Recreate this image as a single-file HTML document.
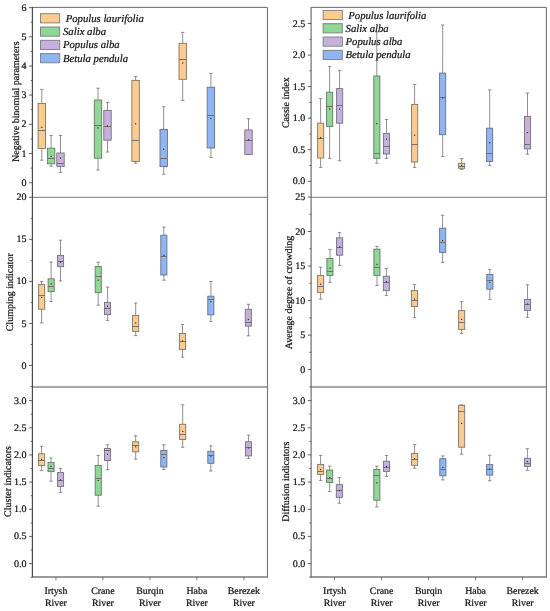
<!DOCTYPE html>
<html lang="en"><head><meta charset="utf-8"><title>Aggregation indices box plots</title>
<style>html,body{margin:0;padding:0;background:#fff}svg{display:block}svg text{font-family:"Liberation Serif",serif;text-rendering:geometricPrecision;fill:#111;stroke:#111;stroke-width:0.22px}</style></head>
<body>
<svg width="550" height="611" viewBox="0 0 550 611" fill="#1a1a1a">
<rect width="550" height="611" fill="#fff"/>
<g stroke="#6c6c6c" stroke-width="0.75" fill="none"><path d="M41.8 89.4V103.4M41.8 148.4V160.2M40.1 89.4H43.5M40.1 160.2H43.5"/></g>
<rect x="38.1" y="103.4" width="7.4" height="45.0" fill="#fbcb90" stroke="#7c746a" stroke-width="0.9"/>
<path d="M38.1 130.5H45.5" stroke="#707070" stroke-width="1"/>
<rect x="41.2" y="126.8" width="1.2" height="1.2" fill="#333"/>
<g stroke="#6c6c6c" stroke-width="0.75" fill="none"><path d="M51.1 135.4V148.2M51.1 163.8V166.2M49.4 135.4H52.8M49.4 166.2H52.8"/></g>
<rect x="47.4" y="148.2" width="7.4" height="15.6" fill="#90d796" stroke="#66786a" stroke-width="0.9"/>
<path d="M47.4 158.5H54.8" stroke="#707070" stroke-width="1"/>
<rect x="50.5" y="155.8" width="1.2" height="1.2" fill="#333"/>
<g stroke="#6c6c6c" stroke-width="0.75" fill="none"><path d="M60.5 135.4V153.0M60.5 166.4V172.4M58.8 135.4H62.2M58.8 172.4H62.2"/></g>
<rect x="56.8" y="153.0" width="7.4" height="13.4" fill="#c6b1dd" stroke="#74707c" stroke-width="0.9"/>
<path d="M56.8 163.5H64.2" stroke="#707070" stroke-width="1"/>
<rect x="59.9" y="157.4" width="1.2" height="1.2" fill="#333"/>
<g stroke="#6c6c6c" stroke-width="0.75" fill="none"><path d="M98.0 88.2V100.0M98.0 158.2V170.0M96.3 88.2H99.7M96.3 170.0H99.7"/></g>
<rect x="94.3" y="100.0" width="7.4" height="58.2" fill="#90d796" stroke="#66786a" stroke-width="0.9"/>
<path d="M94.3 125.5H101.7" stroke="#707070" stroke-width="1"/>
<rect x="97.4" y="127.2" width="1.2" height="1.2" fill="#333"/>
<g stroke="#6c6c6c" stroke-width="0.75" fill="none"><path d="M107.5 102.4V110.4M107.5 140.2V152.0M105.8 102.4H109.2M105.8 152.0H109.2"/></g>
<rect x="103.8" y="110.4" width="7.4" height="29.8" fill="#c6b1dd" stroke="#74707c" stroke-width="0.9"/>
<path d="M103.8 126.5H111.2" stroke="#707070" stroke-width="1"/>
<rect x="106.9" y="125.4" width="1.2" height="1.2" fill="#333"/>
<g stroke="#6c6c6c" stroke-width="0.75" fill="none"><path d="M135.6 76.6V80.4M135.6 161.4V163.2M133.9 76.6H137.3M133.9 163.2H137.3"/></g>
<rect x="131.9" y="80.4" width="7.4" height="81.0" fill="#fbcb90" stroke="#7c746a" stroke-width="0.9"/>
<path d="M131.9 140.5H139.3" stroke="#707070" stroke-width="1"/>
<rect x="135.0" y="123.2" width="1.2" height="1.2" fill="#333"/>
<g stroke="#6c6c6c" stroke-width="0.75" fill="none"><path d="M163.7 106.7V129.4M163.7 166.5V174.2M162.0 106.7H165.4M162.0 174.2H165.4"/></g>
<rect x="160.0" y="129.4" width="7.4" height="37.1" fill="#90b5f1" stroke="#667084" stroke-width="0.9"/>
<path d="M160.0 158.5H167.4" stroke="#707070" stroke-width="1"/>
<rect x="163.1" y="148.6" width="1.2" height="1.2" fill="#333"/>
<g stroke="#6c6c6c" stroke-width="0.75" fill="none"><path d="M182.7 32.4V43.3M182.7 79.3V100.5M181.0 32.4H184.4M181.0 100.5H184.4"/></g>
<rect x="179.0" y="43.3" width="7.4" height="36.0" fill="#fbcb90" stroke="#7c746a" stroke-width="0.9"/>
<path d="M179.0 59.5H186.4" stroke="#707070" stroke-width="1"/>
<rect x="182.1" y="62.5" width="1.2" height="1.2" fill="#333"/>
<g stroke="#6c6c6c" stroke-width="0.75" fill="none"><path d="M210.9 73.4V87.2M210.9 148.0V157.4M209.2 73.4H212.6M209.2 157.4H212.6"/></g>
<rect x="207.2" y="87.2" width="7.4" height="60.8" fill="#90b5f1" stroke="#667084" stroke-width="0.9"/>
<path d="M207.2 115.5H214.6" stroke="#707070" stroke-width="1"/>
<rect x="210.3" y="117.9" width="1.2" height="1.2" fill="#333"/>
<g stroke="#6c6c6c" stroke-width="0.75" fill="none"><path d="M248.5 118.8V130.0M248.5 154.5V154.5M246.8 118.8H250.2M246.8 154.5H250.2"/></g>
<rect x="244.8" y="130.0" width="7.4" height="24.5" fill="#c6b1dd" stroke="#74707c" stroke-width="0.9"/>
<path d="M244.8 140.5H252.2" stroke="#707070" stroke-width="1"/>
<rect x="247.9" y="139.1" width="1.2" height="1.2" fill="#333"/>
<g stroke="#6c6c6c" stroke-width="0.75" fill="none"><path d="M320.6 98.6V123.2M320.6 158.0V167.4M318.9 98.6H322.3M318.9 167.4H322.3"/></g>
<rect x="317.6" y="123.2" width="6.1" height="34.8" fill="#fbcb90" stroke="#7c746a" stroke-width="0.9"/>
<path d="M317.6 138.5H323.7" stroke="#707070" stroke-width="1"/>
<rect x="320.0" y="137.0" width="1.2" height="1.2" fill="#333"/>
<g stroke="#6c6c6c" stroke-width="0.75" fill="none"><path d="M329.6 66.4V92.2M329.6 126.4V158.4M327.9 66.4H331.3M327.9 158.4H331.3"/></g>
<rect x="326.6" y="92.2" width="6.1" height="34.2" fill="#90d796" stroke="#66786a" stroke-width="0.9"/>
<path d="M326.6 106.5H332.7" stroke="#707070" stroke-width="1"/>
<rect x="329.0" y="108.4" width="1.2" height="1.2" fill="#333"/>
<g stroke="#6c6c6c" stroke-width="0.75" fill="none"><path d="M339.6 70.4V88.6M339.6 123.2V160.8M337.9 70.4H341.3M337.9 160.8H341.3"/></g>
<rect x="336.6" y="88.6" width="6.1" height="34.6" fill="#c6b1dd" stroke="#74707c" stroke-width="0.9"/>
<path d="M336.6 105.5H342.7" stroke="#707070" stroke-width="1"/>
<rect x="339.0" y="108.4" width="1.2" height="1.2" fill="#333"/>
<g stroke="#6c6c6c" stroke-width="0.75" fill="none"><path d="M376.8 32.0V76.0M376.8 158.4V163.2M375.1 32.0H378.5M375.1 163.2H378.5"/></g>
<rect x="373.8" y="76.0" width="6.1" height="82.4" fill="#90d796" stroke="#66786a" stroke-width="0.9"/>
<path d="M373.8 153.5H379.9" stroke="#707070" stroke-width="1"/>
<rect x="376.2" y="123.0" width="1.2" height="1.2" fill="#333"/>
<g stroke="#6c6c6c" stroke-width="0.75" fill="none"><path d="M386.5 119.4V133.4M386.5 154.0V158.4M384.8 119.4H388.2M384.8 158.4H388.2"/></g>
<rect x="383.4" y="133.4" width="6.1" height="20.6" fill="#c6b1dd" stroke="#74707c" stroke-width="0.9"/>
<path d="M383.4 146.5H389.6" stroke="#707070" stroke-width="1"/>
<rect x="385.9" y="138.6" width="1.2" height="1.2" fill="#333"/>
<g stroke="#6c6c6c" stroke-width="0.75" fill="none"><path d="M414.6 84.4V104.4M414.6 162.0V167.4M412.9 84.4H416.3M412.9 167.4H416.3"/></g>
<rect x="411.6" y="104.4" width="6.1" height="57.6" fill="#fbcb90" stroke="#7c746a" stroke-width="0.9"/>
<path d="M411.6 144.5H417.7" stroke="#707070" stroke-width="1"/>
<rect x="414.0" y="134.6" width="1.2" height="1.2" fill="#333"/>
<g stroke="#6c6c6c" stroke-width="0.75" fill="none"><path d="M442.7 25.0V73.1M442.7 134.7V156.5M441.0 25.0H444.4M441.0 156.5H444.4"/></g>
<rect x="439.6" y="73.1" width="6.1" height="61.6" fill="#90b5f1" stroke="#667084" stroke-width="0.9"/>
<path d="M439.6 97.5H445.8" stroke="#707070" stroke-width="1"/>
<rect x="442.1" y="97.3" width="1.2" height="1.2" fill="#333"/>
<g stroke="#6c6c6c" stroke-width="0.75" fill="none"><path d="M461.6 158.6V163.3M461.6 168.3V169.5M459.9 158.6H463.3M459.9 169.5H463.3"/></g>
<rect x="458.6" y="163.3" width="6.1" height="5.0" fill="#fbcb90" stroke="#7c746a" stroke-width="0.9"/>
<path d="M458.6 166.5H464.7" stroke="#707070" stroke-width="1"/>
<rect x="461.0" y="164.8" width="1.2" height="1.2" fill="#333"/>
<g stroke="#6c6c6c" stroke-width="0.75" fill="none"><path d="M489.7 89.9V128.2M489.7 161.5V165.4M488.0 89.9H491.4M488.0 165.4H491.4"/></g>
<rect x="486.6" y="128.2" width="6.1" height="33.3" fill="#90b5f1" stroke="#667084" stroke-width="0.9"/>
<path d="M486.6 153.5H492.8" stroke="#707070" stroke-width="1"/>
<rect x="489.1" y="142.1" width="1.2" height="1.2" fill="#333"/>
<g stroke="#6c6c6c" stroke-width="0.75" fill="none"><path d="M527.5 93.1V116.4M527.5 148.9V154.2M525.8 93.1H529.2M525.8 154.2H529.2"/></g>
<rect x="524.5" y="116.4" width="6.1" height="32.5" fill="#c6b1dd" stroke="#74707c" stroke-width="0.9"/>
<path d="M524.5 144.5H530.5" stroke="#707070" stroke-width="1"/>
<rect x="526.9" y="132.0" width="1.2" height="1.2" fill="#333"/>
<g stroke="#6c6c6c" stroke-width="0.75" fill="none"><path d="M41.6 281.6V284.6M41.6 309.2V323.0M39.9 281.6H43.3M39.9 323.0H43.3"/></g>
<rect x="38.6" y="284.6" width="6.1" height="24.6" fill="#fbcb90" stroke="#7c746a" stroke-width="0.9"/>
<path d="M38.6 295.5H44.6" stroke="#707070" stroke-width="1"/>
<rect x="41.0" y="296.8" width="1.2" height="1.2" fill="#333"/>
<g stroke="#6c6c6c" stroke-width="0.75" fill="none"><path d="M51.1 262.0V278.8M51.1 291.6V301.6M49.4 262.0H52.8M49.4 301.6H52.8"/></g>
<rect x="48.1" y="278.8" width="6.1" height="12.8" fill="#90d796" stroke="#66786a" stroke-width="0.9"/>
<path d="M48.1 286.5H54.1" stroke="#707070" stroke-width="1"/>
<rect x="50.5" y="283.4" width="1.2" height="1.2" fill="#333"/>
<g stroke="#6c6c6c" stroke-width="0.75" fill="none"><path d="M60.5 240.2V255.4M60.5 266.6V281.0M58.8 240.2H62.2M58.8 281.0H62.2"/></g>
<rect x="57.5" y="255.4" width="6.1" height="11.2" fill="#c6b1dd" stroke="#74707c" stroke-width="0.9"/>
<path d="M57.5 261.5H63.5" stroke="#707070" stroke-width="1"/>
<rect x="59.9" y="261.4" width="1.2" height="1.2" fill="#333"/>
<g stroke="#6c6c6c" stroke-width="0.75" fill="none"><path d="M98.2 262.2V266.6M98.2 292.6V305.2M96.5 262.2H99.9M96.5 305.2H99.9"/></g>
<rect x="95.2" y="266.6" width="6.1" height="26.0" fill="#90d796" stroke="#66786a" stroke-width="0.9"/>
<path d="M95.2 276.5H101.2" stroke="#707070" stroke-width="1"/>
<rect x="97.6" y="279.6" width="1.2" height="1.2" fill="#333"/>
<g stroke="#6c6c6c" stroke-width="0.75" fill="none"><path d="M107.6 287.0V302.4M107.6 314.6V320.4M105.9 287.0H109.3M105.9 320.4H109.3"/></g>
<rect x="104.5" y="302.4" width="6.1" height="12.2" fill="#c6b1dd" stroke="#74707c" stroke-width="0.9"/>
<path d="M104.5 308.5H110.6" stroke="#707070" stroke-width="1"/>
<rect x="107.0" y="305.6" width="1.2" height="1.2" fill="#333"/>
<g stroke="#6c6c6c" stroke-width="0.75" fill="none"><path d="M135.7 303.0V315.4M135.7 331.4V335.6M134.0 303.0H137.4M134.0 335.6H137.4"/></g>
<rect x="132.6" y="315.4" width="6.1" height="16.0" fill="#fbcb90" stroke="#7c746a" stroke-width="0.9"/>
<path d="M132.6 326.5H138.8" stroke="#707070" stroke-width="1"/>
<rect x="135.1" y="322.4" width="1.2" height="1.2" fill="#333"/>
<g stroke="#6c6c6c" stroke-width="0.75" fill="none"><path d="M163.9 227.0V235.2M163.9 275.0V280.2M162.2 227.0H165.6M162.2 280.2H165.6"/></g>
<rect x="160.8" y="235.2" width="6.1" height="39.8" fill="#90b5f1" stroke="#667084" stroke-width="0.9"/>
<path d="M160.8 256.5H167.0" stroke="#707070" stroke-width="1"/>
<rect x="163.3" y="254.7" width="1.2" height="1.2" fill="#333"/>
<g stroke="#6c6c6c" stroke-width="0.75" fill="none"><path d="M182.5 324.5V333.4M182.5 349.6V357.2M180.8 324.5H184.2M180.8 357.2H184.2"/></g>
<rect x="179.4" y="333.4" width="6.1" height="16.2" fill="#fbcb90" stroke="#7c746a" stroke-width="0.9"/>
<path d="M179.4 341.5H185.6" stroke="#707070" stroke-width="1"/>
<rect x="181.9" y="340.4" width="1.2" height="1.2" fill="#333"/>
<g stroke="#6c6c6c" stroke-width="0.75" fill="none"><path d="M210.9 281.5V296.2M210.9 314.8V321.6M209.2 281.5H212.6M209.2 321.6H212.6"/></g>
<rect x="207.8" y="296.2" width="6.1" height="18.6" fill="#90b5f1" stroke="#667084" stroke-width="0.9"/>
<path d="M207.8 299.5H214.0" stroke="#707070" stroke-width="1"/>
<rect x="210.3" y="301.1" width="1.2" height="1.2" fill="#333"/>
<g stroke="#6c6c6c" stroke-width="0.75" fill="none"><path d="M248.4 304.3V309.3M248.4 326.1V335.8M246.7 304.3H250.1M246.7 335.8H250.1"/></g>
<rect x="245.3" y="309.3" width="6.1" height="16.8" fill="#c6b1dd" stroke="#74707c" stroke-width="0.9"/>
<path d="M245.3 322.5H251.5" stroke="#707070" stroke-width="1"/>
<rect x="247.8" y="318.9" width="1.2" height="1.2" fill="#333"/>
<g stroke="#6c6c6c" stroke-width="0.75" fill="none"><path d="M320.6 267.2V275.4M320.6 292.6V299.2M318.9 267.2H322.3M318.9 299.2H322.3"/></g>
<rect x="317.6" y="275.4" width="6.1" height="17.2" fill="#fbcb90" stroke="#7c746a" stroke-width="0.9"/>
<path d="M317.6 286.5H323.7" stroke="#707070" stroke-width="1"/>
<rect x="320.0" y="283.6" width="1.2" height="1.2" fill="#333"/>
<g stroke="#6c6c6c" stroke-width="0.75" fill="none"><path d="M330.0 249.4V258.4M330.0 275.4V282.4M328.3 249.4H331.7M328.3 282.4H331.7"/></g>
<rect x="326.9" y="258.4" width="6.1" height="17.0" fill="#90d796" stroke="#66786a" stroke-width="0.9"/>
<path d="M326.9 271.5H333.1" stroke="#707070" stroke-width="1"/>
<rect x="329.4" y="267.6" width="1.2" height="1.2" fill="#333"/>
<g stroke="#6c6c6c" stroke-width="0.75" fill="none"><path d="M339.6 232.6V237.8M339.6 255.2V265.4M337.9 232.6H341.3M337.9 265.4H341.3"/></g>
<rect x="336.6" y="237.8" width="6.1" height="17.4" fill="#c6b1dd" stroke="#74707c" stroke-width="0.9"/>
<path d="M336.6 247.5H342.7" stroke="#707070" stroke-width="1"/>
<rect x="339.0" y="246.4" width="1.2" height="1.2" fill="#333"/>
<g stroke="#6c6c6c" stroke-width="0.75" fill="none"><path d="M377.0 246.4V249.2M377.0 275.4V285.4M375.3 246.4H378.7M375.3 285.4H378.7"/></g>
<rect x="373.9" y="249.2" width="6.1" height="26.2" fill="#90d796" stroke="#66786a" stroke-width="0.9"/>
<path d="M373.9 267.5H380.1" stroke="#707070" stroke-width="1"/>
<rect x="376.4" y="263.8" width="1.2" height="1.2" fill="#333"/>
<g stroke="#6c6c6c" stroke-width="0.75" fill="none"><path d="M386.4 268.4V276.2M386.4 290.6V295.4M384.7 268.4H388.1M384.7 295.4H388.1"/></g>
<rect x="383.3" y="276.2" width="6.1" height="14.4" fill="#c6b1dd" stroke="#74707c" stroke-width="0.9"/>
<path d="M383.3 282.5H389.4" stroke="#707070" stroke-width="1"/>
<rect x="385.8" y="281.2" width="1.2" height="1.2" fill="#333"/>
<g stroke="#6c6c6c" stroke-width="0.75" fill="none"><path d="M414.5 284.6V290.4M414.5 306.6V317.6M412.8 284.6H416.2M412.8 317.6H416.2"/></g>
<rect x="411.4" y="290.4" width="6.1" height="16.2" fill="#fbcb90" stroke="#7c746a" stroke-width="0.9"/>
<path d="M411.4 300.5H417.6" stroke="#707070" stroke-width="1"/>
<rect x="413.9" y="298.6" width="1.2" height="1.2" fill="#333"/>
<g stroke="#6c6c6c" stroke-width="0.75" fill="none"><path d="M442.6 215.2V228.2M442.6 252.4V262.4M440.9 215.2H444.3M440.9 262.4H444.3"/></g>
<rect x="439.6" y="228.2" width="6.1" height="24.2" fill="#90b5f1" stroke="#667084" stroke-width="0.9"/>
<path d="M439.6 242.5H445.7" stroke="#707070" stroke-width="1"/>
<rect x="442.0" y="240.0" width="1.2" height="1.2" fill="#333"/>
<g stroke="#6c6c6c" stroke-width="0.75" fill="none"><path d="M461.6 301.4V310.6M461.6 329.4V333.4M459.9 301.4H463.3M459.9 333.4H463.3"/></g>
<rect x="458.6" y="310.6" width="6.1" height="18.8" fill="#fbcb90" stroke="#7c746a" stroke-width="0.9"/>
<path d="M458.6 322.5H464.7" stroke="#707070" stroke-width="1"/>
<rect x="461.0" y="318.8" width="1.2" height="1.2" fill="#333"/>
<g stroke="#6c6c6c" stroke-width="0.75" fill="none"><path d="M489.8 269.4V274.4M489.8 289.2V299.4M488.1 269.4H491.5M488.1 299.4H491.5"/></g>
<rect x="486.8" y="274.4" width="6.1" height="14.8" fill="#90b5f1" stroke="#667084" stroke-width="0.9"/>
<path d="M486.8 280.5H492.9" stroke="#707070" stroke-width="1"/>
<rect x="489.2" y="281.8" width="1.2" height="1.2" fill="#333"/>
<g stroke="#6c6c6c" stroke-width="0.75" fill="none"><path d="M527.5 284.8V299.4M527.5 310.4V317.4M525.8 284.8H529.2M525.8 317.4H529.2"/></g>
<rect x="524.5" y="299.4" width="6.1" height="11.0" fill="#c6b1dd" stroke="#74707c" stroke-width="0.9"/>
<path d="M524.5 304.5H530.5" stroke="#707070" stroke-width="1"/>
<rect x="526.9" y="303.4" width="1.2" height="1.2" fill="#333"/>
<g stroke="#6c6c6c" stroke-width="0.75" fill="none"><path d="M41.6 446.4V453.8M41.6 465.4V470.6M39.9 446.4H43.3M39.9 470.6H43.3"/></g>
<rect x="38.6" y="453.8" width="6.1" height="11.6" fill="#fbcb90" stroke="#7c746a" stroke-width="0.9"/>
<path d="M38.6 460.5H44.6" stroke="#707070" stroke-width="1"/>
<rect x="41.0" y="458.8" width="1.2" height="1.2" fill="#333"/>
<g stroke="#6c6c6c" stroke-width="0.75" fill="none"><path d="M51.0 458.0V462.4M51.0 471.6V481.2M49.3 458.0H52.7M49.3 481.2H52.7"/></g>
<rect x="48.0" y="462.4" width="6.1" height="9.2" fill="#90d796" stroke="#66786a" stroke-width="0.9"/>
<path d="M48.0 468.5H54.0" stroke="#707070" stroke-width="1"/>
<rect x="50.4" y="465.8" width="1.2" height="1.2" fill="#333"/>
<g stroke="#6c6c6c" stroke-width="0.75" fill="none"><path d="M60.5 468.4V472.6M60.5 486.4V492.4M58.8 468.4H62.2M58.8 492.4H62.2"/></g>
<rect x="57.5" y="472.6" width="6.1" height="13.8" fill="#c6b1dd" stroke="#74707c" stroke-width="0.9"/>
<path d="M57.5 480.5H63.5" stroke="#707070" stroke-width="1"/>
<rect x="59.9" y="479.4" width="1.2" height="1.2" fill="#333"/>
<g stroke="#6c6c6c" stroke-width="0.75" fill="none"><path d="M98.2 455.4V465.4M98.2 495.2V506.2M96.5 455.4H99.9M96.5 506.2H99.9"/></g>
<rect x="95.2" y="465.4" width="6.1" height="29.8" fill="#90d796" stroke="#66786a" stroke-width="0.9"/>
<path d="M95.2 478.5H101.2" stroke="#707070" stroke-width="1"/>
<rect x="97.6" y="479.8" width="1.2" height="1.2" fill="#333"/>
<g stroke="#6c6c6c" stroke-width="0.75" fill="none"><path d="M107.6 444.8V448.6M107.6 460.4V469.8M105.9 444.8H109.3M105.9 469.8H109.3"/></g>
<rect x="104.5" y="448.6" width="6.1" height="11.8" fill="#c6b1dd" stroke="#74707c" stroke-width="0.9"/>
<path d="M104.5 450.5H110.6" stroke="#707070" stroke-width="1"/>
<rect x="107.0" y="453.8" width="1.2" height="1.2" fill="#333"/>
<g stroke="#6c6c6c" stroke-width="0.75" fill="none"><path d="M135.7 435.8V441.8M135.7 451.8V459.2M134.0 435.8H137.4M134.0 459.2H137.4"/></g>
<rect x="132.6" y="441.8" width="6.1" height="10.0" fill="#fbcb90" stroke="#7c746a" stroke-width="0.9"/>
<path d="M132.6 445.5H138.8" stroke="#707070" stroke-width="1"/>
<rect x="135.1" y="446.2" width="1.2" height="1.2" fill="#333"/>
<g stroke="#6c6c6c" stroke-width="0.75" fill="none"><path d="M163.8 444.8V450.4M163.8 467.0V469.4M162.1 444.8H165.5M162.1 469.4H165.5"/></g>
<rect x="160.8" y="450.4" width="6.1" height="16.6" fill="#90b5f1" stroke="#667084" stroke-width="0.9"/>
<path d="M160.8 454.5H166.9" stroke="#707070" stroke-width="1"/>
<rect x="163.2" y="457.0" width="1.2" height="1.2" fill="#333"/>
<g stroke="#6c6c6c" stroke-width="0.75" fill="none"><path d="M182.7 404.8V424.3M182.7 439.5V447.2M181.0 404.8H184.4M181.0 447.2H184.4"/></g>
<rect x="179.6" y="424.3" width="6.1" height="15.2" fill="#fbcb90" stroke="#7c746a" stroke-width="0.9"/>
<path d="M179.6 434.5H185.8" stroke="#707070" stroke-width="1"/>
<rect x="182.1" y="430.9" width="1.2" height="1.2" fill="#333"/>
<g stroke="#6c6c6c" stroke-width="0.75" fill="none"><path d="M210.8 445.9V451.3M210.8 463.3V471.0M209.1 445.9H212.5M209.1 471.0H212.5"/></g>
<rect x="207.8" y="451.3" width="6.1" height="12.0" fill="#90b5f1" stroke="#667084" stroke-width="0.9"/>
<path d="M207.8 455.5H213.9" stroke="#707070" stroke-width="1"/>
<rect x="210.2" y="455.5" width="1.2" height="1.2" fill="#333"/>
<g stroke="#6c6c6c" stroke-width="0.75" fill="none"><path d="M248.5 435.2V441.7M248.5 455.9V458.5M246.8 435.2H250.2M246.8 458.5H250.2"/></g>
<rect x="245.4" y="441.7" width="6.1" height="14.2" fill="#c6b1dd" stroke="#74707c" stroke-width="0.9"/>
<path d="M245.4 447.5H251.6" stroke="#707070" stroke-width="1"/>
<rect x="247.9" y="447.4" width="1.2" height="1.2" fill="#333"/>
<g stroke="#6c6c6c" stroke-width="0.75" fill="none"><path d="M320.6 455.4V464.4M320.6 474.4V480.4M318.9 455.4H322.3M318.9 480.4H322.3"/></g>
<rect x="317.6" y="464.4" width="6.1" height="10.0" fill="#fbcb90" stroke="#7c746a" stroke-width="0.9"/>
<path d="M317.6 471.5H323.7" stroke="#707070" stroke-width="1"/>
<rect x="320.0" y="468.8" width="1.2" height="1.2" fill="#333"/>
<g stroke="#6c6c6c" stroke-width="0.75" fill="none"><path d="M329.7 466.2V470.0M329.7 482.6V491.6M328.0 466.2H331.4M328.0 491.6H331.4"/></g>
<rect x="326.6" y="470.0" width="6.1" height="12.6" fill="#90d796" stroke="#66786a" stroke-width="0.9"/>
<path d="M326.6 478.5H332.8" stroke="#707070" stroke-width="1"/>
<rect x="329.1" y="477.2" width="1.2" height="1.2" fill="#333"/>
<g stroke="#6c6c6c" stroke-width="0.75" fill="none"><path d="M339.4 477.4V484.6M339.4 497.4V503.2M337.7 477.4H341.1M337.7 503.2H341.1"/></g>
<rect x="336.3" y="484.6" width="6.1" height="12.8" fill="#c6b1dd" stroke="#74707c" stroke-width="0.9"/>
<path d="M336.3 490.5H342.4" stroke="#707070" stroke-width="1"/>
<rect x="338.8" y="490.0" width="1.2" height="1.2" fill="#333"/>
<g stroke="#6c6c6c" stroke-width="0.75" fill="none"><path d="M376.8 466.2V469.4M376.8 500.2V507.0M375.1 466.2H378.5M375.1 507.0H378.5"/></g>
<rect x="373.8" y="469.4" width="6.1" height="30.8" fill="#90d796" stroke="#66786a" stroke-width="0.9"/>
<path d="M373.8 475.5H379.9" stroke="#707070" stroke-width="1"/>
<rect x="376.2" y="482.2" width="1.2" height="1.2" fill="#333"/>
<g stroke="#6c6c6c" stroke-width="0.75" fill="none"><path d="M386.5 455.4V461.2M386.5 471.4V476.4M384.8 455.4H388.2M384.8 476.4H388.2"/></g>
<rect x="383.4" y="461.2" width="6.1" height="10.2" fill="#c6b1dd" stroke="#74707c" stroke-width="0.9"/>
<path d="M383.4 467.5H389.6" stroke="#707070" stroke-width="1"/>
<rect x="385.9" y="465.8" width="1.2" height="1.2" fill="#333"/>
<g stroke="#6c6c6c" stroke-width="0.75" fill="none"><path d="M414.6 444.6V453.4M414.6 465.4V468.2M412.9 444.6H416.3M412.9 468.2H416.3"/></g>
<rect x="411.6" y="453.4" width="6.1" height="12.0" fill="#fbcb90" stroke="#7c746a" stroke-width="0.9"/>
<path d="M411.6 459.5H417.7" stroke="#707070" stroke-width="1"/>
<rect x="414.0" y="458.0" width="1.2" height="1.2" fill="#333"/>
<g stroke="#6c6c6c" stroke-width="0.75" fill="none"><path d="M442.8 455.9V458.7M442.8 475.8V479.9M441.1 455.9H444.5M441.1 479.9H444.5"/></g>
<rect x="439.8" y="458.7" width="6.1" height="17.1" fill="#90b5f1" stroke="#667084" stroke-width="0.9"/>
<path d="M439.8 469.5H445.9" stroke="#707070" stroke-width="1"/>
<rect x="442.2" y="466.9" width="1.2" height="1.2" fill="#333"/>
<g stroke="#6c6c6c" stroke-width="0.75" fill="none"><path d="M461.6 404.8V405.3M461.6 447.2V454.2M459.9 404.8H463.3M459.9 454.2H463.3"/></g>
<rect x="458.6" y="405.3" width="6.1" height="41.9" fill="#fbcb90" stroke="#7c746a" stroke-width="0.9"/>
<path d="M458.6 411.5H464.7" stroke="#707070" stroke-width="1"/>
<rect x="461.0" y="422.8" width="1.2" height="1.2" fill="#333"/>
<g stroke="#6c6c6c" stroke-width="0.75" fill="none"><path d="M489.7 455.2V464.6M489.7 475.1V480.8M488.0 455.2H491.4M488.0 480.8H491.4"/></g>
<rect x="486.6" y="464.6" width="6.1" height="10.5" fill="#90b5f1" stroke="#667084" stroke-width="0.9"/>
<path d="M486.6 469.5H492.8" stroke="#707070" stroke-width="1"/>
<rect x="489.1" y="468.4" width="1.2" height="1.2" fill="#333"/>
<g stroke="#6c6c6c" stroke-width="0.75" fill="none"><path d="M527.4 448.7V458.3M527.4 466.4V470.3M525.7 448.7H529.1M525.7 470.3H529.1"/></g>
<rect x="524.4" y="458.3" width="6.1" height="8.1" fill="#c6b1dd" stroke="#74707c" stroke-width="0.9"/>
<path d="M524.4 463.5H530.4" stroke="#707070" stroke-width="1"/>
<rect x="526.8" y="461.0" width="1.2" height="1.2" fill="#333"/>
<line x1="32.4" y1="7.4" x2="267.5" y2="7.4" stroke="#5a5a5a" stroke-width="0.9"/>
<line x1="32.4" y1="197.3" x2="267.5" y2="197.3" stroke="#5e5e5e" stroke-width="0.85"/>
<line x1="32.4" y1="387.1" x2="267.5" y2="387.1" stroke="#8a8a8a" stroke-width="1.5"/>
<line x1="31.9" y1="577.0" x2="268.0" y2="577.0" stroke="#7a7a7a" stroke-width="1.3"/>
<line x1="267.5" y1="7.4" x2="267.5" y2="577.0" stroke="#787878" stroke-width="1.15"/>
<line x1="32.4" y1="7.0" x2="32.4" y2="577.0" stroke="#4c4c4c" stroke-width="1.2"/>
<line x1="311.1" y1="7.4" x2="546.4" y2="7.4" stroke="#5a5a5a" stroke-width="0.9"/>
<line x1="311.1" y1="197.3" x2="546.4" y2="197.3" stroke="#5e5e5e" stroke-width="0.85"/>
<line x1="311.1" y1="387.1" x2="546.4" y2="387.1" stroke="#8a8a8a" stroke-width="1.5"/>
<line x1="310.6" y1="577.0" x2="546.9" y2="577.0" stroke="#7a7a7a" stroke-width="1.3"/>
<line x1="546.4" y1="7.4" x2="546.4" y2="577.0" stroke="#787878" stroke-width="1.15"/>
<line x1="311.1" y1="7.0" x2="311.1" y2="577.0" stroke="#6e6e6e" stroke-width="1.2"/>
<path d="M29.1 7.6H32.4M29.1 36.8H32.4M29.1 66.0H32.4M29.1 95.1H32.4M29.1 124.3H32.4M29.1 153.5H32.4M29.1 182.7H32.4M30.7 22.2H32.4M30.7 51.4H32.4M30.7 80.6H32.4M30.7 109.7H32.4M30.7 138.9H32.4M30.7 168.1H32.4" stroke="#444" stroke-width="0.85" fill="none"/>
<text x="26.5" y="10.6" text-anchor="end" font-size="10">6</text>
<text x="26.5" y="39.8" text-anchor="end" font-size="10">5</text>
<text x="26.5" y="69.0" text-anchor="end" font-size="10">4</text>
<text x="26.5" y="98.1" text-anchor="end" font-size="10">3</text>
<text x="26.5" y="127.3" text-anchor="end" font-size="10">2</text>
<text x="26.5" y="156.5" text-anchor="end" font-size="10">1</text>
<text x="26.5" y="185.7" text-anchor="end" font-size="10">0</text>
<path d="M29.1 197.3H32.4M29.1 239.4H32.4M29.1 281.4H32.4M29.1 323.5H32.4M29.1 365.5H32.4M30.7 218.3H32.4M30.7 260.4H32.4M30.7 302.4H32.4M30.7 344.5H32.4M30.7 386.5H32.4" stroke="#444" stroke-width="0.85" fill="none"/>
<text x="26.5" y="200.3" text-anchor="end" font-size="10">20</text>
<text x="26.5" y="242.4" text-anchor="end" font-size="10">15</text>
<text x="26.5" y="284.4" text-anchor="end" font-size="10">10</text>
<text x="26.5" y="326.5" text-anchor="end" font-size="10">5</text>
<text x="26.5" y="368.5" text-anchor="end" font-size="10">0</text>
<path d="M29.1 400.6H32.4M29.1 427.8H32.4M29.1 454.9H32.4M29.1 482.1H32.4M29.1 509.3H32.4M29.1 536.4H32.4M29.1 563.6H32.4M30.7 414.2H32.4M30.7 441.4H32.4M30.7 468.5H32.4M30.7 495.7H32.4M30.7 522.9H32.4M30.7 550.0H32.4M30.7 577.2H32.4" stroke="#444" stroke-width="0.85" fill="none"/>
<text x="26.5" y="403.6" text-anchor="end" font-size="10">3.0</text>
<text x="26.5" y="430.8" text-anchor="end" font-size="10">2.5</text>
<text x="26.5" y="457.9" text-anchor="end" font-size="10">2.0</text>
<text x="26.5" y="485.1" text-anchor="end" font-size="10">1.5</text>
<text x="26.5" y="512.3" text-anchor="end" font-size="10">1.0</text>
<text x="26.5" y="539.4" text-anchor="end" font-size="10">0.5</text>
<text x="26.5" y="566.6" text-anchor="end" font-size="10">0.0</text>
<path d="M307.8 400.6H311.1M307.8 427.8H311.1M307.8 454.9H311.1M307.8 482.1H311.1M307.8 509.3H311.1M307.8 536.4H311.1M307.8 563.6H311.1M309.4 414.2H311.1M309.4 441.4H311.1M309.4 468.5H311.1M309.4 495.7H311.1M309.4 522.9H311.1M309.4 550.0H311.1M309.4 577.2H311.1" stroke="#444" stroke-width="0.85" fill="none"/>
<text x="305.2" y="403.6" text-anchor="end" font-size="10">3.0</text>
<text x="305.2" y="430.8" text-anchor="end" font-size="10">2.5</text>
<text x="305.2" y="457.9" text-anchor="end" font-size="10">2.0</text>
<text x="305.2" y="485.1" text-anchor="end" font-size="10">1.5</text>
<text x="305.2" y="512.3" text-anchor="end" font-size="10">1.0</text>
<text x="305.2" y="539.4" text-anchor="end" font-size="10">0.5</text>
<text x="305.2" y="566.6" text-anchor="end" font-size="10">0.0</text>
<path d="M307.8 23.5H311.1M307.8 55.1H311.1M307.8 86.6H311.1M307.8 118.2H311.1M307.8 149.7H311.1M307.8 181.3H311.1M309.4 39.3H311.1M309.4 70.8H311.1M309.4 102.4H311.1M309.4 134.0H311.1M309.4 165.5H311.1" stroke="#444" stroke-width="0.85" fill="none"/>
<text x="305.2" y="26.5" text-anchor="end" font-size="10">2.5</text>
<text x="305.2" y="58.1" text-anchor="end" font-size="10">2.0</text>
<text x="305.2" y="89.6" text-anchor="end" font-size="10">1.5</text>
<text x="305.2" y="121.2" text-anchor="end" font-size="10">1.0</text>
<text x="305.2" y="152.7" text-anchor="end" font-size="10">0.5</text>
<text x="305.2" y="184.3" text-anchor="end" font-size="10">0.0</text>
<path d="M307.8 197.0H311.1M307.8 231.5H311.1M307.8 266.0H311.1M307.8 300.6H311.1M307.8 335.1H311.1M307.8 369.6H311.1M309.4 214.3H311.1M309.4 248.8H311.1M309.4 283.3H311.1M309.4 317.8H311.1M309.4 352.3H311.1M309.4 386.9H311.1" stroke="#444" stroke-width="0.85" fill="none"/>
<text x="305.2" y="200.0" text-anchor="end" font-size="10">25</text>
<text x="305.2" y="234.5" text-anchor="end" font-size="10">20</text>
<text x="305.2" y="269.0" text-anchor="end" font-size="10">15</text>
<text x="305.2" y="303.6" text-anchor="end" font-size="10">10</text>
<text x="305.2" y="338.1" text-anchor="end" font-size="10">5</text>
<text x="305.2" y="372.6" text-anchor="end" font-size="10">0</text>
<text x="55.9" y="594" text-anchor="middle" font-size="9.85">Irtysh</text>
<text x="55.9" y="605.6" text-anchor="middle" font-size="9.85">River</text>
<text x="102.9" y="594" text-anchor="middle" font-size="9.85">Crane</text>
<text x="102.9" y="605.6" text-anchor="middle" font-size="9.85">River</text>
<text x="149.9" y="594" text-anchor="middle" font-size="9.85">Burqin</text>
<text x="149.9" y="605.6" text-anchor="middle" font-size="9.85">River</text>
<text x="196.9" y="594" text-anchor="middle" font-size="9.85">Haba</text>
<text x="196.9" y="605.6" text-anchor="middle" font-size="9.85">River</text>
<text x="243.9" y="594" text-anchor="middle" font-size="9.85">Berezek</text>
<text x="243.9" y="605.6" text-anchor="middle" font-size="9.85">River</text>
<path d="M55.9 577.0v3.2M102.9 577.0v3.2M149.9 577.0v3.2M196.9 577.0v3.2M243.9 577.0v3.2" stroke="#555" stroke-width="0.8" fill="none"/>
<text x="334.6" y="594" text-anchor="middle" font-size="9.85">Irtysh</text>
<text x="334.6" y="605.6" text-anchor="middle" font-size="9.85">River</text>
<text x="381.6" y="594" text-anchor="middle" font-size="9.85">Crane</text>
<text x="381.6" y="605.6" text-anchor="middle" font-size="9.85">River</text>
<text x="428.6" y="594" text-anchor="middle" font-size="9.85">Burqin</text>
<text x="428.6" y="605.6" text-anchor="middle" font-size="9.85">River</text>
<text x="475.6" y="594" text-anchor="middle" font-size="9.85">Haba</text>
<text x="475.6" y="605.6" text-anchor="middle" font-size="9.85">River</text>
<text x="522.6" y="594" text-anchor="middle" font-size="9.85">Berezek</text>
<text x="522.6" y="605.6" text-anchor="middle" font-size="9.85">River</text>
<path d="M334.6 577.0v3.2M381.6 577.0v3.2M428.6 577.0v3.2M475.6 577.0v3.2M522.6 577.0v3.2" stroke="#555" stroke-width="0.8" fill="none"/>
<text transform="translate(18.5 101.7) rotate(-90)" text-anchor="middle" font-size="10">Negative binomial parameters</text>
<text transform="translate(13.3 292.3) rotate(-90)" text-anchor="middle" font-size="10">Clumping indicator</text>
<text transform="translate(10.8 481.5) rotate(-90)" text-anchor="middle" font-size="10">Cluster indicators</text>
<text transform="translate(289.4 102.7) rotate(-90)" text-anchor="middle" font-size="10">Cassie index</text>
<text transform="translate(291.8 292.5) rotate(-90)" text-anchor="middle" font-size="10">Average degree of crowding</text>
<text transform="translate(289.4 481.6) rotate(-90)" text-anchor="middle" font-size="10">Diffusion indicators</text>
<rect x="40.5" y="13.7" width="19.2" height="9.2" fill="#fbcb90" stroke="#7c7c7c" stroke-width="0.9"/>
<text x="63.0" y="21.8" font-size="10.7" font-style="italic"> Populus laurifolia</text>
<rect x="40.5" y="27.0" width="19.2" height="9.2" fill="#90d796" stroke="#7c7c7c" stroke-width="0.9"/>
<text x="63.0" y="35.1" font-size="10.7" font-style="italic">Salix alba</text>
<rect x="40.5" y="40.3" width="19.2" height="9.2" fill="#c6b1dd" stroke="#7c7c7c" stroke-width="0.9"/>
<text x="63.0" y="48.4" font-size="10.7" font-style="italic">Populus alba</text>
<rect x="40.5" y="53.6" width="19.2" height="9.2" fill="#90b5f1" stroke="#7c7c7c" stroke-width="0.9"/>
<text x="63.0" y="61.7" font-size="10.7" font-style="italic">Betula pendula</text>
<rect x="323.1" y="10.4" width="19.2" height="9.2" fill="#fbcb90" stroke="#7c7c7c" stroke-width="0.9"/>
<text x="345.6" y="18.5" font-size="10.7" font-style="italic"> Populus laurifolia</text>
<rect x="323.1" y="23.7" width="19.2" height="9.2" fill="#90d796" stroke="#7c7c7c" stroke-width="0.9"/>
<text x="345.6" y="31.8" font-size="10.7" font-style="italic">Salix alba</text>
<rect x="323.1" y="37.0" width="19.2" height="9.2" fill="#c6b1dd" stroke="#7c7c7c" stroke-width="0.9"/>
<text x="345.6" y="45.1" font-size="10.7" font-style="italic">Populus alba</text>
<rect x="323.1" y="50.3" width="19.2" height="9.2" fill="#90b5f1" stroke="#7c7c7c" stroke-width="0.9"/>
<text x="345.6" y="58.4" font-size="10.7" font-style="italic">Betula pendula</text>
</svg>
</body></html>
